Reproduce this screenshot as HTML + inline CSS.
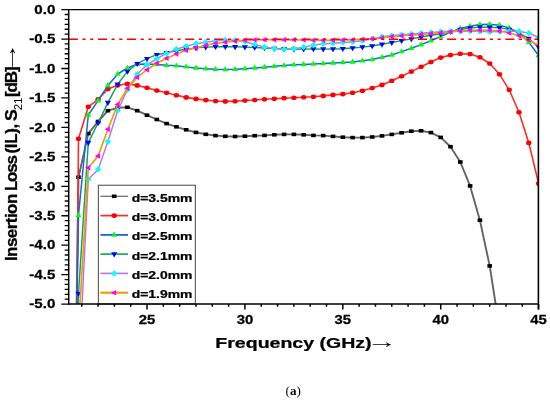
<!DOCTYPE html><html><head><meta charset="utf-8"><title>Figure (a)</title>
<style>html,body{margin:0;padding:0;background:#fff}svg{display:block}text{font-family:"Liberation Sans",Arial,sans-serif;font-weight:bold;fill:#000}</style></head><body>
<svg width="550" height="401" viewBox="0 0 550 401">
<rect width="550" height="401" fill="#fff"/>
<defs><clipPath id="c"><rect x="68.7" y="9.6" width="469.7" height="294.4"/></clipPath></defs>
<g clip-path="url(#c)">
<path d="M68.7 834.2L78.5 177.2L88.3 133.6L98.1 121.5L107.9 110.7L117.7 107.8L127.4 107.3L137.2 110.7L147.0 115.2L156.8 119.5L166.6 123.6L176.4 126.8L186.2 129.8L196.0 132.4L205.8 134.3L215.6 135.6L225.3 136.3L235.1 136.5L244.9 136.2L254.7 135.7L264.5 135.4L274.3 134.8L284.1 134.4L293.9 134.4L303.7 134.8L313.4 135.4L323.2 135.6L333.0 136.4L342.8 137.2L352.6 137.6L362.4 137.6L372.2 137.0L382.0 135.9L391.8 134.4L401.6 132.8L411.3 131.2L421.1 130.8L430.9 132.6L440.7 137.4L450.5 146.7L460.3 162.0L470.1 185.9L479.9 220.2L489.7 265.9L499.5 328.8" fill="none" stroke="#646464" stroke-width="1.9" stroke-linejoin="round"/>
<rect x="76.2" y="175.4" width="4.6" height="3.6" fill="#000000"/>
<rect x="86.0" y="131.8" width="4.6" height="3.6" fill="#000000"/>
<rect x="95.8" y="119.7" width="4.6" height="3.6" fill="#000000"/>
<rect x="105.6" y="108.9" width="4.6" height="3.6" fill="#000000"/>
<rect x="115.4" y="106.0" width="4.6" height="3.6" fill="#000000"/>
<rect x="125.1" y="105.5" width="4.6" height="3.6" fill="#000000"/>
<rect x="134.9" y="108.9" width="4.6" height="3.6" fill="#000000"/>
<rect x="144.7" y="113.4" width="4.6" height="3.6" fill="#000000"/>
<rect x="154.5" y="117.7" width="4.6" height="3.6" fill="#000000"/>
<rect x="164.3" y="121.8" width="4.6" height="3.6" fill="#000000"/>
<rect x="174.1" y="125.0" width="4.6" height="3.6" fill="#000000"/>
<rect x="183.9" y="128.0" width="4.6" height="3.6" fill="#000000"/>
<rect x="193.7" y="130.6" width="4.6" height="3.6" fill="#000000"/>
<rect x="203.5" y="132.5" width="4.6" height="3.6" fill="#000000"/>
<rect x="213.2" y="133.8" width="4.6" height="3.6" fill="#000000"/>
<rect x="223.0" y="134.5" width="4.6" height="3.6" fill="#000000"/>
<rect x="232.8" y="134.7" width="4.6" height="3.6" fill="#000000"/>
<rect x="242.6" y="134.4" width="4.6" height="3.6" fill="#000000"/>
<rect x="252.4" y="133.9" width="4.6" height="3.6" fill="#000000"/>
<rect x="262.2" y="133.6" width="4.6" height="3.6" fill="#000000"/>
<rect x="272.0" y="133.0" width="4.6" height="3.6" fill="#000000"/>
<rect x="281.8" y="132.6" width="4.6" height="3.6" fill="#000000"/>
<rect x="291.6" y="132.6" width="4.6" height="3.6" fill="#000000"/>
<rect x="301.4" y="133.0" width="4.6" height="3.6" fill="#000000"/>
<rect x="311.1" y="133.6" width="4.6" height="3.6" fill="#000000"/>
<rect x="320.9" y="133.8" width="4.6" height="3.6" fill="#000000"/>
<rect x="330.7" y="134.6" width="4.6" height="3.6" fill="#000000"/>
<rect x="340.5" y="135.4" width="4.6" height="3.6" fill="#000000"/>
<rect x="350.3" y="135.8" width="4.6" height="3.6" fill="#000000"/>
<rect x="360.1" y="135.8" width="4.6" height="3.6" fill="#000000"/>
<rect x="369.9" y="135.2" width="4.6" height="3.6" fill="#000000"/>
<rect x="379.7" y="134.1" width="4.6" height="3.6" fill="#000000"/>
<rect x="389.5" y="132.6" width="4.6" height="3.6" fill="#000000"/>
<rect x="399.3" y="131.0" width="4.6" height="3.6" fill="#000000"/>
<rect x="409.0" y="129.4" width="4.6" height="3.6" fill="#000000"/>
<rect x="418.8" y="129.0" width="4.6" height="3.6" fill="#000000"/>
<rect x="428.6" y="130.8" width="4.6" height="3.6" fill="#000000"/>
<rect x="438.4" y="135.6" width="4.6" height="3.6" fill="#000000"/>
<rect x="448.2" y="144.9" width="4.6" height="3.6" fill="#000000"/>
<rect x="458.0" y="160.2" width="4.6" height="3.6" fill="#000000"/>
<rect x="467.8" y="184.1" width="4.6" height="3.6" fill="#000000"/>
<rect x="477.6" y="218.4" width="4.6" height="3.6" fill="#000000"/>
<rect x="487.4" y="264.1" width="4.6" height="3.6" fill="#000000"/>
<rect x="497.2" y="327.0" width="4.6" height="3.6" fill="#000000"/>
<path d="M68.7 1187.6L78.5 138.7L88.3 106.8L98.1 99.4L107.9 89.0L117.7 85.3L127.4 83.9L137.2 85.4L147.0 87.8L156.8 90.5L166.6 92.8L176.4 95.3L186.2 97.4L196.0 98.9L205.8 100.1L215.6 101.0L225.3 101.4L235.1 101.2L244.9 100.5L254.7 100.0L264.5 99.2L274.3 98.7L284.1 98.1L293.9 97.8L303.7 97.2L313.4 96.8L323.2 95.9L333.0 94.9L342.8 94.1L352.6 92.7L362.4 90.7L372.2 88.0L382.0 84.9L391.8 80.8L401.6 76.3L411.3 71.6L421.1 66.7L430.9 62.0L440.7 57.6L450.5 55.1L460.3 53.8L470.1 54.1L479.9 57.3L489.7 63.5L499.5 74.3L509.2 89.8L519.0 112.3L528.8 142.9L538.6 183.6" fill="none" stroke="#ff2a2a" stroke-width="1.6" stroke-linejoin="round"/>
<ellipse cx="78.5" cy="138.7" rx="2.7" ry="2.3" fill="#ff0000"/>
<ellipse cx="88.3" cy="106.8" rx="2.7" ry="2.3" fill="#ff0000"/>
<ellipse cx="98.1" cy="99.4" rx="2.7" ry="2.3" fill="#ff0000"/>
<ellipse cx="107.9" cy="89.0" rx="2.7" ry="2.3" fill="#ff0000"/>
<ellipse cx="117.7" cy="85.3" rx="2.7" ry="2.3" fill="#ff0000"/>
<ellipse cx="127.4" cy="83.9" rx="2.7" ry="2.3" fill="#ff0000"/>
<ellipse cx="137.2" cy="85.4" rx="2.7" ry="2.3" fill="#ff0000"/>
<ellipse cx="147.0" cy="87.8" rx="2.7" ry="2.3" fill="#ff0000"/>
<ellipse cx="156.8" cy="90.5" rx="2.7" ry="2.3" fill="#ff0000"/>
<ellipse cx="166.6" cy="92.8" rx="2.7" ry="2.3" fill="#ff0000"/>
<ellipse cx="176.4" cy="95.3" rx="2.7" ry="2.3" fill="#ff0000"/>
<ellipse cx="186.2" cy="97.4" rx="2.7" ry="2.3" fill="#ff0000"/>
<ellipse cx="196.0" cy="98.9" rx="2.7" ry="2.3" fill="#ff0000"/>
<ellipse cx="205.8" cy="100.1" rx="2.7" ry="2.3" fill="#ff0000"/>
<ellipse cx="215.6" cy="101.0" rx="2.7" ry="2.3" fill="#ff0000"/>
<ellipse cx="225.3" cy="101.4" rx="2.7" ry="2.3" fill="#ff0000"/>
<ellipse cx="235.1" cy="101.2" rx="2.7" ry="2.3" fill="#ff0000"/>
<ellipse cx="244.9" cy="100.5" rx="2.7" ry="2.3" fill="#ff0000"/>
<ellipse cx="254.7" cy="100.0" rx="2.7" ry="2.3" fill="#ff0000"/>
<ellipse cx="264.5" cy="99.2" rx="2.7" ry="2.3" fill="#ff0000"/>
<ellipse cx="274.3" cy="98.7" rx="2.7" ry="2.3" fill="#ff0000"/>
<ellipse cx="284.1" cy="98.1" rx="2.7" ry="2.3" fill="#ff0000"/>
<ellipse cx="293.9" cy="97.8" rx="2.7" ry="2.3" fill="#ff0000"/>
<ellipse cx="303.7" cy="97.2" rx="2.7" ry="2.3" fill="#ff0000"/>
<ellipse cx="313.4" cy="96.8" rx="2.7" ry="2.3" fill="#ff0000"/>
<ellipse cx="323.2" cy="95.9" rx="2.7" ry="2.3" fill="#ff0000"/>
<ellipse cx="333.0" cy="94.9" rx="2.7" ry="2.3" fill="#ff0000"/>
<ellipse cx="342.8" cy="94.1" rx="2.7" ry="2.3" fill="#ff0000"/>
<ellipse cx="352.6" cy="92.7" rx="2.7" ry="2.3" fill="#ff0000"/>
<ellipse cx="362.4" cy="90.7" rx="2.7" ry="2.3" fill="#ff0000"/>
<ellipse cx="372.2" cy="88.0" rx="2.7" ry="2.3" fill="#ff0000"/>
<ellipse cx="382.0" cy="84.9" rx="2.7" ry="2.3" fill="#ff0000"/>
<ellipse cx="391.8" cy="80.8" rx="2.7" ry="2.3" fill="#ff0000"/>
<ellipse cx="401.6" cy="76.3" rx="2.7" ry="2.3" fill="#ff0000"/>
<ellipse cx="411.3" cy="71.6" rx="2.7" ry="2.3" fill="#ff0000"/>
<ellipse cx="421.1" cy="66.7" rx="2.7" ry="2.3" fill="#ff0000"/>
<ellipse cx="430.9" cy="62.0" rx="2.7" ry="2.3" fill="#ff0000"/>
<ellipse cx="440.7" cy="57.6" rx="2.7" ry="2.3" fill="#ff0000"/>
<ellipse cx="450.5" cy="55.1" rx="2.7" ry="2.3" fill="#ff0000"/>
<ellipse cx="460.3" cy="53.8" rx="2.7" ry="2.3" fill="#ff0000"/>
<ellipse cx="470.1" cy="54.1" rx="2.7" ry="2.3" fill="#ff0000"/>
<ellipse cx="479.9" cy="57.3" rx="2.7" ry="2.3" fill="#ff0000"/>
<ellipse cx="489.7" cy="63.5" rx="2.7" ry="2.3" fill="#ff0000"/>
<ellipse cx="499.5" cy="74.3" rx="2.7" ry="2.3" fill="#ff0000"/>
<ellipse cx="509.2" cy="89.8" rx="2.7" ry="2.3" fill="#ff0000"/>
<ellipse cx="519.0" cy="112.3" rx="2.7" ry="2.3" fill="#ff0000"/>
<ellipse cx="528.8" cy="142.9" rx="2.7" ry="2.3" fill="#ff0000"/>
<ellipse cx="538.6" cy="183.6" rx="2.7" ry="2.3" fill="#ff0000"/>
<path d="M68.7 775.3L78.5 215.2L88.3 115.0L98.1 100.7L107.9 85.4L117.7 74.0L127.4 68.0L137.2 64.3L147.0 64.1L156.8 64.4L166.6 65.3L176.4 65.7L186.2 66.9L196.0 68.0L205.8 68.7L215.6 69.3L225.3 69.5L235.1 69.3L244.9 68.7L254.7 68.0L264.5 67.2L274.3 66.3L284.1 65.6L293.9 64.8L303.7 64.4L313.4 64.1L323.2 63.6L333.0 62.9L342.8 62.4L352.6 62.0L362.4 60.8L372.2 59.5L382.0 57.3L391.8 55.0L401.6 51.6L411.3 48.3L421.1 44.6L430.9 40.8L440.7 36.5L450.5 32.1L460.3 28.4L470.1 26.2L479.9 24.6L489.7 24.3L499.5 25.2L509.2 27.9L519.0 32.8L528.8 42.3L538.6 55.5" fill="none" stroke="#1468e8" stroke-width="1.5" stroke-linejoin="round"/>
<path d="M75.44 216.91L81.54 216.91L78.49 211.81Z" fill="#00ff00"/>
<path d="M85.23 116.78L91.33 116.78L88.28 111.68Z" fill="#00ff00"/>
<path d="M95.02 102.47L101.12 102.47L98.07 97.37Z" fill="#00ff00"/>
<path d="M104.81 87.15L110.91 87.15L107.86 82.05Z" fill="#00ff00"/>
<path d="M114.60 75.79L120.70 75.79L117.65 70.69Z" fill="#00ff00"/>
<path d="M124.39 69.78L130.49 69.78L127.44 64.68Z" fill="#00ff00"/>
<path d="M134.18 66.07L140.28 66.07L137.23 60.97Z" fill="#00ff00"/>
<path d="M143.97 65.83L150.07 65.83L147.02 60.73Z" fill="#00ff00"/>
<path d="M153.76 66.13L159.86 66.13L156.81 61.03Z" fill="#00ff00"/>
<path d="M163.55 67.01L169.65 67.01L166.60 61.91Z" fill="#00ff00"/>
<path d="M173.34 67.48L179.44 67.48L176.39 62.38Z" fill="#00ff00"/>
<path d="M183.13 68.60L189.23 68.60L186.18 63.50Z" fill="#00ff00"/>
<path d="M192.92 69.72L199.02 69.72L195.97 64.62Z" fill="#00ff00"/>
<path d="M202.71 70.49L208.81 70.49L205.76 65.39Z" fill="#00ff00"/>
<path d="M212.50 71.02L218.60 71.02L215.55 65.92Z" fill="#00ff00"/>
<path d="M222.29 71.25L228.39 71.25L225.34 66.15Z" fill="#00ff00"/>
<path d="M232.08 71.02L238.18 71.02L235.13 65.92Z" fill="#00ff00"/>
<path d="M241.87 70.49L247.97 70.49L244.92 65.39Z" fill="#00ff00"/>
<path d="M251.66 69.72L257.76 69.72L254.71 64.62Z" fill="#00ff00"/>
<path d="M261.45 68.95L267.55 68.95L264.50 63.85Z" fill="#00ff00"/>
<path d="M271.24 68.07L277.34 68.07L274.29 62.97Z" fill="#00ff00"/>
<path d="M281.03 67.30L287.13 67.30L284.08 62.20Z" fill="#00ff00"/>
<path d="M290.82 66.54L296.92 66.54L293.87 61.44Z" fill="#00ff00"/>
<path d="M300.61 66.19L306.71 66.19L303.66 61.09Z" fill="#00ff00"/>
<path d="M310.40 65.83L316.50 65.83L313.45 60.73Z" fill="#00ff00"/>
<path d="M320.19 65.36L326.29 65.36L323.24 60.26Z" fill="#00ff00"/>
<path d="M329.98 64.65L336.08 64.65L333.03 59.55Z" fill="#00ff00"/>
<path d="M339.77 64.18L345.87 64.18L342.82 59.08Z" fill="#00ff00"/>
<path d="M349.56 63.71L355.66 63.71L352.61 58.61Z" fill="#00ff00"/>
<path d="M359.35 62.59L365.45 62.59L362.40 57.49Z" fill="#00ff00"/>
<path d="M369.14 61.24L375.24 61.24L372.19 56.14Z" fill="#00ff00"/>
<path d="M378.93 59.00L385.03 59.00L381.98 53.90Z" fill="#00ff00"/>
<path d="M388.72 56.70L394.82 56.70L391.77 51.60Z" fill="#00ff00"/>
<path d="M398.51 53.35L404.61 53.35L401.56 48.25Z" fill="#00ff00"/>
<path d="M408.30 50.05L414.40 50.05L411.35 44.95Z" fill="#00ff00"/>
<path d="M418.09 46.40L424.19 46.40L421.14 41.30Z" fill="#00ff00"/>
<path d="M427.88 42.57L433.98 42.57L430.93 37.47Z" fill="#00ff00"/>
<path d="M437.67 38.27L443.77 38.27L440.72 33.17Z" fill="#00ff00"/>
<path d="M447.46 33.85L453.56 33.85L450.51 28.75Z" fill="#00ff00"/>
<path d="M457.25 30.20L463.35 30.20L460.30 25.10Z" fill="#00ff00"/>
<path d="M467.04 27.90L473.14 27.90L470.09 22.80Z" fill="#00ff00"/>
<path d="M476.83 26.37L482.93 26.37L479.88 21.27Z" fill="#00ff00"/>
<path d="M486.62 26.02L492.72 26.02L489.67 20.92Z" fill="#00ff00"/>
<path d="M496.41 26.96L502.51 26.96L499.46 21.86Z" fill="#00ff00"/>
<path d="M506.20 29.67L512.30 29.67L509.25 24.57Z" fill="#00ff00"/>
<path d="M515.99 34.56L522.09 34.56L519.04 29.46Z" fill="#00ff00"/>
<path d="M525.78 44.10L531.88 44.10L528.83 39.00Z" fill="#00ff00"/>
<path d="M535.57 57.29L541.67 57.29L538.62 52.19Z" fill="#00ff00"/>
<path d="M68.7 834.2L78.5 293.5L88.3 142.6L98.1 123.0L107.9 102.6L117.7 84.3L127.4 71.4L137.2 63.7L147.0 58.7L156.8 54.7L166.6 52.7L176.4 50.8L186.2 49.2L196.0 47.9L205.8 47.1L215.6 46.7L225.3 46.6L235.1 46.8L244.9 47.1L254.7 47.5L264.5 48.0L274.3 48.6L284.1 49.1L293.9 49.3L303.7 49.1L313.4 49.0L323.2 49.1L333.0 49.0L342.8 48.7L352.6 48.0L362.4 47.1L372.2 46.0L382.0 44.3L391.8 42.5L401.6 40.6L411.3 38.9L421.1 37.0L430.9 35.3L440.7 33.8L450.5 31.7L460.3 29.6L470.1 28.0L479.9 27.1L489.7 27.3L499.5 27.7L509.2 29.4L519.0 32.8L528.8 38.6L538.6 47.1" fill="none" stroke="#0aa55a" stroke-width="1.45" stroke-linejoin="round"/>
<path d="M75.44 291.75L81.54 291.75L78.49 296.85Z" fill="#0000ff"/>
<path d="M85.23 140.85L91.33 140.85L88.28 145.95Z" fill="#0000ff"/>
<path d="M95.02 121.23L101.12 121.23L98.07 126.33Z" fill="#0000ff"/>
<path d="M104.81 100.85L110.91 100.85L107.86 105.95Z" fill="#0000ff"/>
<path d="M114.60 82.54L120.70 82.54L117.65 87.64Z" fill="#0000ff"/>
<path d="M124.39 69.64L130.49 69.64L127.44 74.74Z" fill="#0000ff"/>
<path d="M134.18 61.98L140.28 61.98L137.23 67.08Z" fill="#0000ff"/>
<path d="M143.97 56.91L150.07 56.91L147.02 62.01Z" fill="#0000ff"/>
<path d="M153.76 52.97L159.86 52.97L156.81 58.07Z" fill="#0000ff"/>
<path d="M163.55 50.91L169.65 50.91L166.60 56.01Z" fill="#0000ff"/>
<path d="M173.34 49.08L179.44 49.08L176.39 54.18Z" fill="#0000ff"/>
<path d="M183.13 47.43L189.23 47.43L186.18 52.53Z" fill="#0000ff"/>
<path d="M192.92 46.14L199.02 46.14L195.97 51.24Z" fill="#0000ff"/>
<path d="M202.71 45.31L208.81 45.31L205.76 50.41Z" fill="#0000ff"/>
<path d="M212.50 44.96L218.60 44.96L215.55 50.06Z" fill="#0000ff"/>
<path d="M222.29 44.90L228.39 44.90L225.34 50.00Z" fill="#0000ff"/>
<path d="M232.08 45.07L238.18 45.07L235.13 50.17Z" fill="#0000ff"/>
<path d="M241.87 45.37L247.97 45.37L244.92 50.47Z" fill="#0000ff"/>
<path d="M251.66 45.72L257.76 45.72L254.71 50.82Z" fill="#0000ff"/>
<path d="M261.45 46.25L267.55 46.25L264.50 51.35Z" fill="#0000ff"/>
<path d="M271.24 46.84L277.34 46.84L274.29 51.94Z" fill="#0000ff"/>
<path d="M281.03 47.31L287.13 47.31L284.08 52.41Z" fill="#0000ff"/>
<path d="M290.82 47.55L296.92 47.55L293.87 52.65Z" fill="#0000ff"/>
<path d="M300.61 47.31L306.71 47.31L303.66 52.41Z" fill="#0000ff"/>
<path d="M310.40 47.25L316.50 47.25L313.45 52.35Z" fill="#0000ff"/>
<path d="M320.19 47.37L326.29 47.37L323.24 52.47Z" fill="#0000ff"/>
<path d="M329.98 47.25L336.08 47.25L333.03 52.35Z" fill="#0000ff"/>
<path d="M339.77 46.96L345.87 46.96L342.82 52.06Z" fill="#0000ff"/>
<path d="M349.56 46.25L355.66 46.25L352.61 51.35Z" fill="#0000ff"/>
<path d="M359.35 45.37L365.45 45.37L362.40 50.47Z" fill="#0000ff"/>
<path d="M369.14 44.25L375.24 44.25L372.19 49.35Z" fill="#0000ff"/>
<path d="M378.93 42.54L385.03 42.54L381.98 47.64Z" fill="#0000ff"/>
<path d="M388.72 40.78L394.82 40.78L391.77 45.88Z" fill="#0000ff"/>
<path d="M398.51 38.89L404.61 38.89L401.56 43.99Z" fill="#0000ff"/>
<path d="M408.30 37.18L414.40 37.18L411.35 42.28Z" fill="#0000ff"/>
<path d="M418.09 35.30L424.19 35.30L421.14 40.40Z" fill="#0000ff"/>
<path d="M427.88 33.53L433.98 33.53L430.93 38.63Z" fill="#0000ff"/>
<path d="M437.67 32.06L443.77 32.06L440.72 37.16Z" fill="#0000ff"/>
<path d="M447.46 29.94L453.56 29.94L450.51 35.04Z" fill="#0000ff"/>
<path d="M457.25 27.82L463.35 27.82L460.30 32.92Z" fill="#0000ff"/>
<path d="M467.04 26.29L473.14 26.29L470.09 31.39Z" fill="#0000ff"/>
<path d="M476.83 25.34L482.93 25.34L479.88 30.44Z" fill="#0000ff"/>
<path d="M486.62 25.52L492.72 25.52L489.67 30.62Z" fill="#0000ff"/>
<path d="M496.41 25.93L502.51 25.93L499.46 31.03Z" fill="#0000ff"/>
<path d="M506.20 27.64L512.30 27.64L509.25 32.74Z" fill="#0000ff"/>
<path d="M515.99 31.06L522.09 31.06L519.04 36.16Z" fill="#0000ff"/>
<path d="M525.78 36.83L531.88 36.83L528.83 41.93Z" fill="#0000ff"/>
<path d="M535.57 45.37L541.67 45.37L538.62 50.47Z" fill="#0000ff"/>
<path d="M68.7 1010.9L78.5 374.8L88.3 179.2L98.1 169.4L107.9 141.5L117.7 110.7L127.4 89.7L137.2 74.0L147.0 64.8L156.8 58.7L166.6 53.4L176.4 49.3L186.2 46.1L196.0 43.7L205.8 42.2L215.6 40.9L225.3 39.9L235.1 40.2L244.9 41.5L254.7 44.5L264.5 47.1L274.3 48.6L284.1 49.4L293.9 48.8L303.7 47.1L313.4 45.1L323.2 43.8L333.0 43.2L342.8 42.5L352.6 41.7L362.4 40.7L372.2 38.9L382.0 36.7L391.8 35.5L401.6 34.7L411.3 33.9L421.1 33.2L430.9 32.5L440.7 31.6L450.5 31.3L460.3 31.3L470.1 31.1L479.9 31.4L489.7 31.8L499.5 31.5L509.2 31.1L519.0 31.2L528.8 33.1L538.6 37.5" fill="none" stroke="#c070ee" stroke-width="1.45" stroke-linejoin="round"/>
<path d="M75.2 374.8L78.5 371.6L81.7 374.8L78.5 377.9Z" fill="#00ffff"/>
<path d="M85.0 179.2L88.3 176.1L91.5 179.2L88.3 182.4Z" fill="#00ffff"/>
<path d="M94.8 169.4L98.1 166.2L101.3 169.4L98.1 172.5Z" fill="#00ffff"/>
<path d="M104.6 141.5L107.9 138.4L111.1 141.5L107.9 144.7Z" fill="#00ffff"/>
<path d="M114.4 110.7L117.7 107.5L120.9 110.7L117.7 113.8Z" fill="#00ffff"/>
<path d="M124.2 89.7L127.4 86.6L130.7 89.7L127.4 92.9Z" fill="#00ffff"/>
<path d="M134.0 74.0L137.2 70.9L140.5 74.0L137.2 77.2Z" fill="#00ffff"/>
<path d="M143.8 64.8L147.0 61.6L150.3 64.8L147.0 67.9Z" fill="#00ffff"/>
<path d="M153.6 58.7L156.8 55.5L160.1 58.7L156.8 61.8Z" fill="#00ffff"/>
<path d="M163.3 53.4L166.6 50.3L169.8 53.4L166.6 56.6Z" fill="#00ffff"/>
<path d="M173.1 49.3L176.4 46.1L179.6 49.3L176.4 52.4Z" fill="#00ffff"/>
<path d="M182.9 46.1L186.2 43.0L189.4 46.1L186.2 49.3Z" fill="#00ffff"/>
<path d="M192.7 43.7L196.0 40.6L199.2 43.7L196.0 46.9Z" fill="#00ffff"/>
<path d="M202.5 42.2L205.8 39.0L209.0 42.2L205.8 45.3Z" fill="#00ffff"/>
<path d="M212.3 40.9L215.6 37.7L218.8 40.9L215.6 44.0Z" fill="#00ffff"/>
<path d="M222.1 39.9L225.3 36.8L228.6 39.9L225.3 43.1Z" fill="#00ffff"/>
<path d="M231.9 40.2L235.1 37.1L238.4 40.2L235.1 43.4Z" fill="#00ffff"/>
<path d="M241.7 41.5L244.9 38.4L248.2 41.5L244.9 44.7Z" fill="#00ffff"/>
<path d="M251.5 44.5L254.7 41.3L258.0 44.5L254.7 47.6Z" fill="#00ffff"/>
<path d="M261.2 47.1L264.5 44.0L267.8 47.1L264.5 50.3Z" fill="#00ffff"/>
<path d="M271.0 48.6L274.3 45.4L277.5 48.6L274.3 51.7Z" fill="#00ffff"/>
<path d="M280.8 49.4L284.1 46.2L287.3 49.4L284.1 52.5Z" fill="#00ffff"/>
<path d="M290.6 48.8L293.9 45.6L297.1 48.8L293.9 51.9Z" fill="#00ffff"/>
<path d="M300.4 47.1L303.7 43.9L306.9 47.1L303.7 50.2Z" fill="#00ffff"/>
<path d="M310.2 45.1L313.4 42.0L316.7 45.1L313.4 48.3Z" fill="#00ffff"/>
<path d="M320.0 43.8L323.2 40.7L326.5 43.8L323.2 47.0Z" fill="#00ffff"/>
<path d="M329.8 43.2L333.0 40.0L336.3 43.2L333.0 46.3Z" fill="#00ffff"/>
<path d="M339.6 42.5L342.8 39.3L346.1 42.5L342.8 45.6Z" fill="#00ffff"/>
<path d="M349.4 41.7L352.6 38.6L355.9 41.7L352.6 44.9Z" fill="#00ffff"/>
<path d="M359.1 40.7L362.4 37.5L365.6 40.7L362.4 43.8Z" fill="#00ffff"/>
<path d="M368.9 38.9L372.2 35.7L375.4 38.9L372.2 42.0Z" fill="#00ffff"/>
<path d="M378.7 36.7L382.0 33.5L385.2 36.7L382.0 39.8Z" fill="#00ffff"/>
<path d="M388.5 35.5L391.8 32.4L395.0 35.5L391.8 38.7Z" fill="#00ffff"/>
<path d="M398.3 34.7L401.6 31.5L404.8 34.7L401.6 37.8Z" fill="#00ffff"/>
<path d="M408.1 33.9L411.3 30.7L414.6 33.9L411.3 37.0Z" fill="#00ffff"/>
<path d="M417.9 33.2L421.1 30.1L424.4 33.2L421.1 36.4Z" fill="#00ffff"/>
<path d="M427.7 32.5L430.9 29.3L434.2 32.5L430.9 35.6Z" fill="#00ffff"/>
<path d="M437.5 31.6L440.7 28.5L444.0 31.6L440.7 34.8Z" fill="#00ffff"/>
<path d="M447.3 31.3L450.5 28.1L453.8 31.3L450.5 34.4Z" fill="#00ffff"/>
<path d="M457.0 31.3L460.3 28.1L463.5 31.3L460.3 34.4Z" fill="#00ffff"/>
<path d="M466.8 31.1L470.1 27.9L473.3 31.1L470.1 34.2Z" fill="#00ffff"/>
<path d="M476.6 31.4L479.9 28.2L483.1 31.4L479.9 34.5Z" fill="#00ffff"/>
<path d="M486.4 31.8L489.7 28.7L492.9 31.8L489.7 35.0Z" fill="#00ffff"/>
<path d="M496.2 31.5L499.5 28.4L502.7 31.5L499.5 34.7Z" fill="#00ffff"/>
<path d="M506.0 31.1L509.2 27.9L512.5 31.1L509.2 34.2Z" fill="#00ffff"/>
<path d="M515.8 31.2L519.0 28.1L522.3 31.2L519.0 34.4Z" fill="#00ffff"/>
<path d="M525.6 33.1L528.8 30.0L532.1 33.1L528.8 36.3Z" fill="#00ffff"/>
<path d="M535.4 37.5L538.6 34.3L541.9 37.5L538.6 40.6Z" fill="#00ffff"/>
<path d="M68.7 952.0L78.5 328.2L88.3 167.7L98.1 156.1L107.9 129.3L117.7 104.5L127.4 88.2L137.2 77.4L147.0 69.7L156.8 63.3L166.6 58.3L176.4 54.0L186.2 50.2L196.0 47.8L205.8 45.2L215.6 43.3L225.3 42.2L235.1 41.1L244.9 40.3L254.7 39.8L264.5 39.7L274.3 39.7L284.1 39.8L293.9 39.8L303.7 40.0L313.4 40.2L323.2 40.3L333.0 40.2L342.8 40.1L352.6 39.7L362.4 39.3L372.2 38.8L382.0 37.9L391.8 36.6L401.6 35.9L411.3 35.0L421.1 34.4L430.9 33.6L440.7 32.7L450.5 31.9L460.3 30.9L470.1 30.3L479.9 30.2L489.7 30.3L499.5 31.0L509.2 33.0L519.0 35.6L528.8 39.9L538.6 45.6" fill="none" stroke="#e8a008" stroke-width="1.7" stroke-linejoin="round"/>
<path d="M80.5 325.5L80.5 331.0L75.1 328.2Z" fill="#ff00ff"/>
<path d="M90.3 165.0L90.3 170.5L84.9 167.7Z" fill="#ff00ff"/>
<path d="M100.1 153.3L100.1 158.8L94.7 156.1Z" fill="#ff00ff"/>
<path d="M109.9 126.6L109.9 132.1L104.5 129.3Z" fill="#ff00ff"/>
<path d="M119.7 101.7L119.7 107.2L114.2 104.5Z" fill="#ff00ff"/>
<path d="M129.4 85.5L129.4 91.0L124.0 88.2Z" fill="#ff00ff"/>
<path d="M139.2 74.6L139.2 80.1L133.8 77.4Z" fill="#ff00ff"/>
<path d="M149.0 66.9L149.0 72.4L143.6 69.7Z" fill="#ff00ff"/>
<path d="M158.8 60.6L158.8 66.1L153.4 63.3Z" fill="#ff00ff"/>
<path d="M168.6 55.5L168.6 61.0L163.2 58.3Z" fill="#ff00ff"/>
<path d="M178.4 51.2L178.4 56.7L173.0 54.0Z" fill="#ff00ff"/>
<path d="M188.2 47.5L188.2 53.0L182.8 50.2Z" fill="#ff00ff"/>
<path d="M198.0 45.1L198.0 50.6L192.6 47.8Z" fill="#ff00ff"/>
<path d="M207.8 42.4L207.8 47.9L202.4 45.2Z" fill="#ff00ff"/>
<path d="M217.6 40.5L217.6 46.0L212.2 43.3Z" fill="#ff00ff"/>
<path d="M227.3 39.4L227.3 44.9L221.9 42.2Z" fill="#ff00ff"/>
<path d="M237.1 38.4L237.1 43.9L231.7 41.1Z" fill="#ff00ff"/>
<path d="M246.9 37.6L246.9 43.1L241.5 40.3Z" fill="#ff00ff"/>
<path d="M256.7 37.1L256.7 42.6L251.3 39.8Z" fill="#ff00ff"/>
<path d="M266.5 36.9L266.5 42.4L261.1 39.7Z" fill="#ff00ff"/>
<path d="M276.3 36.9L276.3 42.4L270.9 39.7Z" fill="#ff00ff"/>
<path d="M286.1 37.0L286.1 42.5L280.7 39.8Z" fill="#ff00ff"/>
<path d="M295.9 37.1L295.9 42.6L290.5 39.8Z" fill="#ff00ff"/>
<path d="M305.7 37.2L305.7 42.7L300.3 40.0Z" fill="#ff00ff"/>
<path d="M315.4 37.4L315.4 42.9L310.1 40.2Z" fill="#ff00ff"/>
<path d="M325.2 37.5L325.2 43.0L319.8 40.3Z" fill="#ff00ff"/>
<path d="M335.0 37.5L335.0 43.0L329.6 40.2Z" fill="#ff00ff"/>
<path d="M344.8 37.3L344.8 42.8L339.4 40.1Z" fill="#ff00ff"/>
<path d="M354.6 36.9L354.6 42.4L349.2 39.7Z" fill="#ff00ff"/>
<path d="M364.4 36.6L364.4 42.1L359.0 39.3Z" fill="#ff00ff"/>
<path d="M374.2 36.1L374.2 41.6L368.8 38.8Z" fill="#ff00ff"/>
<path d="M384.0 35.1L384.0 40.6L378.6 37.9Z" fill="#ff00ff"/>
<path d="M393.8 33.9L393.8 39.4L388.4 36.6Z" fill="#ff00ff"/>
<path d="M403.6 33.1L403.6 38.6L398.2 35.9Z" fill="#ff00ff"/>
<path d="M413.3 32.3L413.3 37.8L407.9 35.0Z" fill="#ff00ff"/>
<path d="M423.1 31.6L423.1 37.1L417.7 34.4Z" fill="#ff00ff"/>
<path d="M432.9 30.8L432.9 36.3L427.5 33.6Z" fill="#ff00ff"/>
<path d="M442.7 29.9L442.7 35.4L437.3 32.7Z" fill="#ff00ff"/>
<path d="M452.5 29.1L452.5 34.6L447.1 31.9Z" fill="#ff00ff"/>
<path d="M462.3 28.2L462.3 33.7L456.9 30.9Z" fill="#ff00ff"/>
<path d="M472.1 27.6L472.1 33.1L466.7 30.3Z" fill="#ff00ff"/>
<path d="M481.9 27.4L481.9 32.9L476.5 30.2Z" fill="#ff00ff"/>
<path d="M491.7 27.5L491.7 33.0L486.3 30.3Z" fill="#ff00ff"/>
<path d="M501.5 28.3L501.5 33.8L496.1 31.0Z" fill="#ff00ff"/>
<path d="M511.2 30.2L511.2 35.7L505.8 33.0Z" fill="#ff00ff"/>
<path d="M521.0 32.9L521.0 38.4L515.6 35.6Z" fill="#ff00ff"/>
<path d="M530.8 37.1L530.8 42.6L525.4 39.9Z" fill="#ff00ff"/>
<path d="M540.6 42.9L540.6 48.4L535.2 45.6Z" fill="#ff00ff"/>
<line x1="68.7" y1="39.2" x2="538.4" y2="39.2" stroke="#ff0000" stroke-width="1.5" stroke-dasharray="9.1 4.5 3.2 4.55 3.2 4.55" stroke-dashoffset="-0.1"/>
</g>
<rect x="98.3" y="185.2" width="97.0" height="118.80000000000001" fill="#fff" stroke="#333" stroke-width="0.9"/>
<line x1="100.4" y1="196.3" x2="128.1" y2="196.3" stroke="#646464" stroke-width="1.2"/>
<rect x="111.9" y="194.5" width="4.6" height="3.6" fill="#000000"/>
<text transform="translate(131.7,201.8) scale(1.265,1)" font-size="11" stroke="#000" stroke-width="0.25">d=3.5mm</text>
<line x1="100.4" y1="215.6" x2="128.1" y2="215.6" stroke="#ff2a2a" stroke-width="1.7"/>
<ellipse cx="114.2" cy="215.6" rx="2.7" ry="2.3" fill="#ff0000"/>
<text transform="translate(131.7,221.1) scale(1.265,1)" font-size="11" stroke="#000" stroke-width="0.25">d=3.0mm</text>
<line x1="100.4" y1="234.9" x2="128.1" y2="234.9" stroke="#1468e8" stroke-width="1.8"/>
<path d="M111.15 236.65L117.25 236.65L114.20 231.55Z" fill="#00ff00"/>
<text transform="translate(131.7,240.4) scale(1.265,1)" font-size="11" stroke="#000" stroke-width="0.25">d=2.5mm</text>
<line x1="100.4" y1="254.1" x2="128.1" y2="254.1" stroke="#0aa55a" stroke-width="1.6"/>
<path d="M111.15 252.35L117.25 252.35L114.20 257.45Z" fill="#0000ff"/>
<text transform="translate(131.7,259.6) scale(1.265,1)" font-size="11" stroke="#000" stroke-width="0.25">d=2.1mm</text>
<line x1="100.4" y1="273.4" x2="128.1" y2="273.4" stroke="#c070ee" stroke-width="1.6"/>
<path d="M111.0 273.4L114.2 270.2L117.5 273.4L114.2 276.5Z" fill="#00ffff"/>
<text transform="translate(131.7,278.9) scale(1.265,1)" font-size="11" stroke="#000" stroke-width="0.25">d=2.0mm</text>
<line x1="100.4" y1="292.7" x2="128.1" y2="292.7" stroke="#e8a008" stroke-width="2.2"/>
<path d="M116.2 289.9L116.2 295.4L110.8 292.7Z" fill="#ff00ff"/>
<text transform="translate(131.7,298.2) scale(1.265,1)" font-size="11" stroke="#000" stroke-width="0.25">d=1.9mm</text>
<path d="M68.7 9.6H538.4" stroke="#000" stroke-width="1.1" fill="none"/>
<path d="M538.4 9.1V309.6" stroke="#000" stroke-width="1.6" fill="none"/>
<path d="M68.7 9.1V304.7" stroke="#000" stroke-width="1.5" fill="none"/>
<path d="M68.0 304.0H539.0" stroke="#000" stroke-width="1.5" fill="none"/>
<path d="M61.3 9.60H68.7M64.7 14.51H68.7M64.7 19.42H68.7M64.7 24.32H68.7M64.7 29.23H68.7M64.7 34.14H68.7M61.3 39.05H68.7M64.7 43.96H68.7M64.7 48.87H68.7M64.7 53.77H68.7M64.7 58.68H68.7M64.7 63.59H68.7M61.3 68.50H68.7M64.7 73.41H68.7M64.7 78.32H68.7M64.7 83.22H68.7M64.7 88.13H68.7M64.7 93.04H68.7M61.3 97.95H68.7M64.7 102.86H68.7M64.7 107.77H68.7M64.7 112.67H68.7M64.7 117.58H68.7M64.7 122.49H68.7M61.3 127.40H68.7M64.7 132.31H68.7M64.7 137.22H68.7M64.7 142.12H68.7M64.7 147.03H68.7M64.7 151.94H68.7M61.3 156.85H68.7M64.7 161.76H68.7M64.7 166.67H68.7M64.7 171.57H68.7M64.7 176.48H68.7M64.7 181.39H68.7M61.3 186.30H68.7M64.7 191.21H68.7M64.7 196.12H68.7M64.7 201.02H68.7M64.7 205.93H68.7M64.7 210.84H68.7M61.3 215.75H68.7M64.7 220.66H68.7M64.7 225.57H68.7M64.7 230.47H68.7M64.7 235.38H68.7M64.7 240.29H68.7M61.3 245.20H68.7M64.7 250.11H68.7M64.7 255.02H68.7M64.7 259.93H68.7M64.7 264.83H68.7M64.7 269.74H68.7M61.3 274.65H68.7M64.7 279.56H68.7M64.7 284.47H68.7M64.7 289.38H68.7M64.7 294.28H68.7M64.7 299.19H68.7M61.3 304.10H68.7" stroke="#000" stroke-width="1.3" fill="none"/>
<path d="M81.75 304.0V306.7M98.07 304.0V306.7M114.39 304.0V306.7M130.70 304.0V306.7M147.02 304.0V309.6M163.34 304.0V306.7M179.65 304.0V306.7M195.97 304.0V306.7M212.29 304.0V306.7M228.60 304.0V306.7M244.92 304.0V309.6M261.24 304.0V306.7M277.55 304.0V306.7M293.87 304.0V306.7M310.19 304.0V306.7M326.50 304.0V306.7M342.82 304.0V309.6M359.14 304.0V306.7M375.45 304.0V306.7M391.77 304.0V306.7M408.09 304.0V306.7M424.40 304.0V306.7M440.72 304.0V309.6M457.04 304.0V306.7M473.35 304.0V306.7M489.67 304.0V306.7M505.99 304.0V306.7M522.30 304.0V306.7M538.62 304.0V309.6" stroke="#000" stroke-width="1.5" fill="none"/>
<text transform="translate(55.3,13.8) scale(1.27,1)" font-size="11.9" text-anchor="end" stroke="#000" stroke-width="0.25">0.0</text>
<text transform="translate(55.3,43.2) scale(1.27,1)" font-size="11.9" text-anchor="end" stroke="#000" stroke-width="0.25">-0.5</text>
<text transform="translate(55.3,72.7) scale(1.27,1)" font-size="11.9" text-anchor="end" stroke="#000" stroke-width="0.25">-1.0</text>
<text transform="translate(55.3,102.1) scale(1.27,1)" font-size="11.9" text-anchor="end" stroke="#000" stroke-width="0.25">-1.5</text>
<text transform="translate(55.3,131.6) scale(1.27,1)" font-size="11.9" text-anchor="end" stroke="#000" stroke-width="0.25">-2.0</text>
<text transform="translate(55.3,161.0) scale(1.27,1)" font-size="11.9" text-anchor="end" stroke="#000" stroke-width="0.25">-2.5</text>
<text transform="translate(55.3,190.5) scale(1.27,1)" font-size="11.9" text-anchor="end" stroke="#000" stroke-width="0.25">-3.0</text>
<text transform="translate(55.3,219.9) scale(1.27,1)" font-size="11.9" text-anchor="end" stroke="#000" stroke-width="0.25">-3.5</text>
<text transform="translate(55.3,249.4) scale(1.27,1)" font-size="11.9" text-anchor="end" stroke="#000" stroke-width="0.25">-4.0</text>
<text transform="translate(55.3,278.9) scale(1.27,1)" font-size="11.9" text-anchor="end" stroke="#000" stroke-width="0.25">-4.5</text>
<text transform="translate(55.3,308.3) scale(1.27,1)" font-size="11.9" text-anchor="end" stroke="#000" stroke-width="0.25">-5.0</text>
<text transform="translate(147.0,323.6) scale(1.25,1)" font-size="11.9" text-anchor="middle" stroke="#000" stroke-width="0.25">25</text>
<text transform="translate(244.9,323.6) scale(1.25,1)" font-size="11.9" text-anchor="middle" stroke="#000" stroke-width="0.25">30</text>
<text transform="translate(342.8,323.6) scale(1.25,1)" font-size="11.9" text-anchor="middle" stroke="#000" stroke-width="0.25">35</text>
<text transform="translate(440.7,323.6) scale(1.25,1)" font-size="11.9" text-anchor="middle" stroke="#000" stroke-width="0.25">40</text>
<text transform="translate(538.6,323.6) scale(1.25,1)" font-size="11.9" text-anchor="middle" stroke="#000" stroke-width="0.25">45</text>
<text transform="translate(215.3,348.3) scale(1.262,1)" font-size="15.5" stroke="#000" stroke-width="0.25">Frequency (GHz)</text>
<text transform="translate(366.6,347.6) scale(1.62,1)" font-size="19" style="font-weight:normal">→</text>
<g transform="translate(16.7,260.3) rotate(-90) scale(1,0.92)" font-size="17" stroke="#000" stroke-width="0.3">
<text x="-0.8" y="0" textLength="67.4" lengthAdjust="spacing">Insertion</text>
<text x="69.2" y="0" textLength="36.1" lengthAdjust="spacing">Loss</text>
<text x="106.8" y="0" textLength="29.7" lengthAdjust="spacing">(IL),</text>
<text x="139.3" y="0" textLength="11.8" lengthAdjust="spacingAndGlyphs">S</text>
<text x="150.0" y="6.2" font-size="11.5" style="font-weight:normal" stroke="none">21</text>
<text x="163.3" y="0" textLength="30.6" lengthAdjust="spacing">[dB]</text>
<text transform="translate(187.0,-0.7) scale(1.66,1.1)" font-size="19" style="font-weight:normal" stroke="none">→</text>
</g>
<text x="293.2" y="395" font-size="13" text-anchor="middle" style="font-family:'Liberation Serif',serif;font-weight:normal">(<tspan font-weight="bold">a</tspan>)</text>
</svg></body></html>
